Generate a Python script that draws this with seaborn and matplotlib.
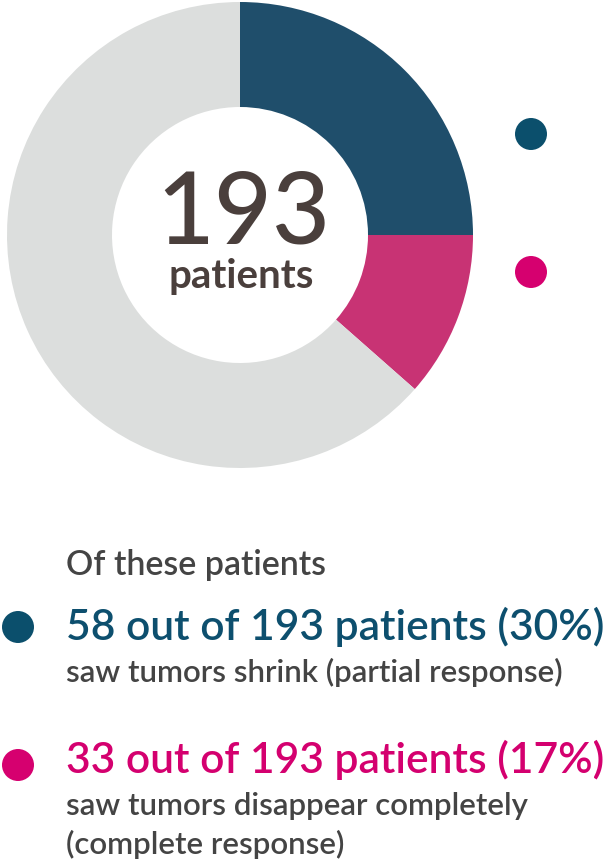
import matplotlib
matplotlib.use("Agg")
import matplotlib.pyplot as plt
import seaborn as sns

# доли сегментов кольца, как они нарисованы на картинке
segments = ["partial", "complete", "other"]
shares = [25.0, 11.5, 63.5]
seg_colors = ["#1f4e6b", "#c83374", "#dcdedd"]

total_label = "193"
center_sub = "patients"
intro = "Of these patients"
headlines = ["58 out of 193 patients (30%)", "33 out of 193 patients (17%)"]
details = [["saw tumors shrink (partial response)"],
           ["saw tumors disappear completely", "(complete response)"]]
text_colors = ["#0d4f6e", "#d4006f"]
dot_colors = ["#0b4f6c", "#d6006f"]

sns.set_theme(style="white")
plt.rcParams["font.family"] = ["Lato", "DejaVu Sans"]

W, H = 613, 864
fig = plt.figure(figsize=(W / 100, H / 100), dpi=100)

def px(x, y):
    return x / W, 1 - y / H

# кольцо
cx, cy, r = 240, 235, 233
ax = fig.add_axes([(cx - r) / W, 1 - (cy + r) / H, 2 * r / W, 2 * r / H])
ax.pie(shares, colors=seg_colors, startangle=90, counterclock=False,
       radius=1, wedgeprops=dict(width=105 / 233, linewidth=0))
ax.set_xlim(-1, 1)
ax.set_ylim(-1, 1)
ax.set_aspect("equal")
ax.axis("off")

fig.text(*px(243, 243), total_label, color="#4a3f3c", fontsize=72,
         fontweight="medium", ha="center", va="baseline")
fig.text(*px(241, 288), center_sub, color="#4a3f3c", fontsize=29,
         fontweight="bold", ha="center", va="baseline")

# слой для точек
ov = fig.add_axes([0, 0, 1, 1])
ov.set_xlim(0, W)
ov.set_ylim(H, 0)
ov.axis("off")
ov.scatter([531, 531], [134, 272], s=(32 * 0.72) ** 2, c=dot_colors, linewidths=0)
ov.scatter([18, 18], [627, 765], s=(32 * 0.72) ** 2, c=dot_colors, linewidths=0)

fig.text(*px(66, 575), intro, color="#444444", fontsize=24.5,
         fontweight="semibold", va="baseline")
for i, (hl, det) in enumerate(zip(headlines, details)):
    base = [640, 773][i]
    fig.text(*px(66, base), hl, color=text_colors[i], fontsize=30.6,
             fontweight="semibold", va="baseline")
    for j, line in enumerate(det):
        fig.text(*px(66, base + 42 + 39 * j), line, color="#444444",
                 fontsize=22.5, fontweight="semibold", va="baseline")

fig.savefig("out.png", dpi=100)
